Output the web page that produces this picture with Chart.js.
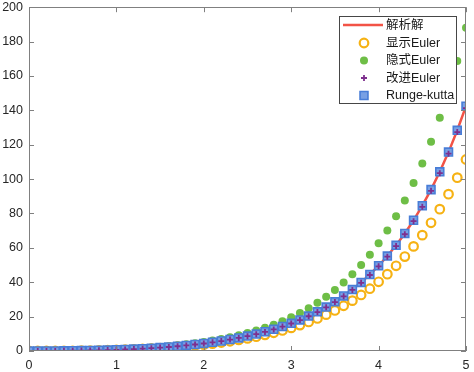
<!DOCTYPE html>
<html>
<head>
<meta charset="utf-8">
<script src="https://cdn.jsdelivr.net/npm/chart.js@4.4.0/dist/chart.umd.min.js"></script>
<style>
  html, body { margin: 0; padding: 0; background: #fff; }
  #wrap { width: 474px; height: 372px; }
</style>
</head>
<body>
<div id="wrap"><canvas id="graph1"></canvas></div>
<script>
// x values
const xs = [0, 0.1, 0.2, 0.3, 0.4, 0.5, 0.6, 0.7, 0.8, 0.9,
    1, 1.1, 1.2, 1.3, 1.4, 1.5, 1.6, 1.7, 1.8, 1.9,
    2, 2.1, 2.2, 2.3, 2.4, 2.5, 2.6, 2.7, 2.8, 2.9,
    3, 3.1, 3.2, 3.3, 3.4, 3.5, 3.6, 3.7, 3.8, 3.9,
    4, 4.1, 4.2, 4.3, 4.4, 4.5, 4.6, 4.7, 4.8, 4.9, 5];

// 解析解
const exact = [0, 0.01, 0.02, 0.05, 0.09, 0.15, 0.22, 0.31, 0.43, 0.56,
    0.72, 0.90, 1.12, 1.37, 1.66, 1.98, 2.35, 2.77, 3.25, 3.79,
    4.39, 5.07, 5.83, 6.67, 7.62, 8.68, 9.86, 11.18, 12.64, 14.27,
    16.09, 18.10, 20.33, 22.81, 25.56, 28.62, 32.00, 35.75, 39.90, 44.50,
    49.60, 55.24, 61.49, 68.40, 76.05, 84.52, 93.88, 104.25, 115.71, 128.39, 142.41];

// 显示Euler
const explicitEuler = [0, 0, 0.01, 0.03, 0.06, 0.11, 0.17, 0.25, 0.34, 0.46,
    0.59, 0.75, 0.94, 1.15, 1.40, 1.68, 2.00, 2.35, 2.76, 3.22,
    3.73, 4.30, 4.94, 5.65, 6.45, 7.33, 8.32, 9.41, 10.62, 11.96,
    13.45, 15.09, 16.91, 18.93, 21.15, 23.60, 26.31, 29.30, 32.60, 36.24,
    40.26, 44.69, 49.56, 54.94, 60.86, 67.39, 74.58, 82.50, 91.22, 100.82, 111.39];

// 隐式Euler
const implicitEuler = [0, 0.01, 0.03, 0.07, 0.12, 0.19, 0.28, 0.39, 0.52, 0.68,
    0.87, 1.09, 1.34, 1.63, 1.97, 2.36, 2.80, 3.30, 3.86, 4.50,
    5.23, 6.04, 6.95, 7.98, 9.14, 10.43, 11.88, 13.50, 15.31, 17.33,
    19.59, 22.11, 24.92, 28.06, 31.55, 35.45, 39.79, 44.62, 50.00, 55.99,
    62.66, 70.07, 78.32, 87.51, 97.72, 109.07, 121.70, 135.75, 151.37, 168.73, 188.03];

// 改进Euler
const improvedEuler = [0, 0.01, 0.02, 0.05, 0.09, 0.15, 0.22, 0.31, 0.42, 0.56,
    0.71, 0.90, 1.11, 1.36, 1.64, 1.97, 2.34, 2.76, 3.23, 3.77,
    4.37, 5.04, 5.79, 6.64, 7.58, 8.64, 9.81, 11.12, 12.57, 14.19,
    15.99, 17.99, 20.21, 22.67, 25.41, 28.44, 31.79, 35.52, 39.64, 44.21,
    49.26, 54.86, 61.05, 67.91, 75.50, 83.89, 93.18, 103.45, 114.81, 127.38, 141.27];

// Runge-kutta
const rungeKutta = [0, 0.01, 0.02, 0.05, 0.09, 0.15, 0.22, 0.31, 0.43, 0.56,
    0.72, 0.90, 1.12, 1.37, 1.66, 1.98, 2.35, 2.77, 3.25, 3.79,
    4.39, 5.07, 5.83, 6.67, 7.62, 8.68, 9.86, 11.18, 12.64, 14.27,
    16.09, 18.10, 20.33, 22.81, 25.56, 28.61, 32.00, 35.75, 39.90, 44.50,
    49.60, 55.24, 61.49, 68.40, 76.05, 84.52, 93.88, 104.25, 115.71, 128.39, 142.41];

const labels = ['解析解', '显示Euler', '隐式Euler', '改进Euler', 'Runge-kutta'];

const red = 'rgb(242,83,70)';
const orange = 'rgb(246,178,20)';
const green = 'rgb(110,190,70)';
const purple = 'rgb(126,47,142)';
const blue = 'rgb(72,125,215)';
const blueFill = 'rgb(120,160,228)';
const axisGray = 'rgb(128,128,128)';
const fontFam = '"Liberation Sans", Arial, "Noto Sans CJK SC", sans-serif';

function pts(ys) {
    return xs.map(function (x, i) { return {x: x, y: ys[i]}; });
}

const data = {
    datasets: [{
        label: labels[0],
        data: pts(exact),
        borderColor: red,
        borderWidth: 2.5,
        pointRadius: 0,
        showLine: true,
        order: 3
    }, {
        label: labels[1],
        data: pts(explicitEuler),
        showLine: false,
        pointStyle: 'circle',
        pointRadius: 4.3,
        pointBorderWidth: 2.2,
        pointBorderColor: orange,
        pointBackgroundColor: 'rgba(255,255,255,0)',
        order: 4
    }, {
        label: labels[2],
        data: pts(implicitEuler),
        showLine: false,
        pointStyle: 'circle',
        pointRadius: 4,
        pointBorderWidth: 0,
        pointBackgroundColor: green,
        pointBorderColor: green,
        order: 5
    }, {
        label: labels[3],
        data: pts(improvedEuler),
        showLine: false,
        pointStyle: 'cross',
        pointRadius: 3,
        pointBorderWidth: 1.8,
        pointBorderColor: purple,
        pointBackgroundColor: purple,
        order: 1
    }, {
        label: labels[4],
        data: pts(rungeKutta),
        showLine: false,
        pointStyle: 'rect',
        pointRadius: 5.6,
        pointBorderWidth: 1.6,
        pointBorderColor: blue,
        pointBackgroundColor: blueFill,
        order: 2
    }]
};

// frame, inward ticks on 4 sides, legend box top right
const boxPlugin = {
    id: 'box',
    afterDraw(chart) {
        const ctx = chart.ctx;
        const a = chart.chartArea;
        const sx = chart.scales.x, sy = chart.scales.y;
        ctx.save();
        ctx.strokeStyle = axisGray;
        ctx.lineWidth = 1;
        ctx.strokeRect(Math.round(a.left) + 0.5, Math.round(a.top) + 0.5,
            Math.round(a.right - a.left) - 1, Math.round(a.bottom - a.top) - 1);
        ctx.beginPath();
        sx.ticks.forEach(function (t) {
            const px = Math.round(sx.getPixelForValue(t.value)) + 0.5;
            ctx.moveTo(px, a.bottom); ctx.lineTo(px, a.bottom - 5);
            ctx.moveTo(px, a.top); ctx.lineTo(px, a.top + 5);
        });
        sy.ticks.forEach(function (t) {
            const py = Math.round(sy.getPixelForValue(t.value)) + 0.5;
            ctx.moveTo(a.left, py); ctx.lineTo(a.left + 5, py);
            ctx.moveTo(a.right, py); ctx.lineTo(a.right - 5, py);
        });
        ctx.stroke();

        // legend
        const lx = 339, ly = 16, lw = 117, lh = 87;
        ctx.fillStyle = '#fff';
        ctx.fillRect(lx, ly, lw, lh);
        ctx.strokeStyle = 'rgb(70,70,70)';
        ctx.strokeRect(lx + 0.5, ly + 0.5, lw, lh);
        const rowY = [25, 43, 60.5, 78, 95.5];
        const mx = 364;
        ctx.font = '12.5px ' + fontFam;
        ctx.textBaseline = 'middle';
        ctx.textAlign = 'left';
        chart.data.datasets.forEach(function (ds, i) {
            const y = rowY[i];
            if (i === 0) {
                ctx.strokeStyle = red;
                ctx.lineWidth = 2.5;
                ctx.beginPath();
                ctx.moveTo(343, y); ctx.lineTo(383, y);
                ctx.stroke();
            } else {
                ctx.lineWidth = ds.pointBorderWidth;
                ctx.strokeStyle = ds.pointBorderColor;
                ctx.fillStyle = ds.pointBackgroundColor;
                Chart.helpers.drawPoint(ctx, {
                    pointStyle: ds.pointStyle,
                    radius: ds.pointRadius,
                    borderWidth: ds.pointBorderWidth,
                    rotation: 0
                }, mx, y);
            }
            ctx.fillStyle = '#1a1a1a';
            ctx.fillText(ds.label, 386, y + 0.5);
        });
        ctx.restore();
    }
};

const config = {
    type: 'line',
    data: data,
    options: {
        responsive: true,
        maintainAspectRatio: false,
        animation: false,
        layout: {
            padding: {top: 6, right: 8, left: 0, bottom: 0}
        },
        plugins: {
            legend: {display: false},
            tooltip: {enabled: false}
        },
        scales: {
            x: {
                type: 'linear',
                min: 0,
                max: 5,
                grid: {display: false, drawTicks: false},
                border: {display: false},
                ticks: {
                    stepSize: 1,
                    padding: 7,
                    color: '#262626',
                    font: {size: 12.5, family: fontFam}
                },
                afterFit: function (scale) {
                    scale.height = 21;
                    scale.paddingRight = 0;
                    scale.paddingLeft = 0;
                }
            },
            y: {
                min: 0,
                max: 200,
                grid: {display: false, drawTicks: false},
                border: {display: false},
                ticks: {
                    stepSize: 20,
                    padding: 6,
                    color: '#262626',
                    font: {size: 12.5, family: fontFam}
                },
                afterFit: function (scale) {
                    scale.width = 29;
                    scale.paddingTop = 0;
                    scale.paddingBottom = 0;
                }
            }
        }
    },
    plugins: [boxPlugin]
};

const myChart = new Chart(
    document.querySelector('#graph1'),
    config
);
</script>
</body>
</html>
